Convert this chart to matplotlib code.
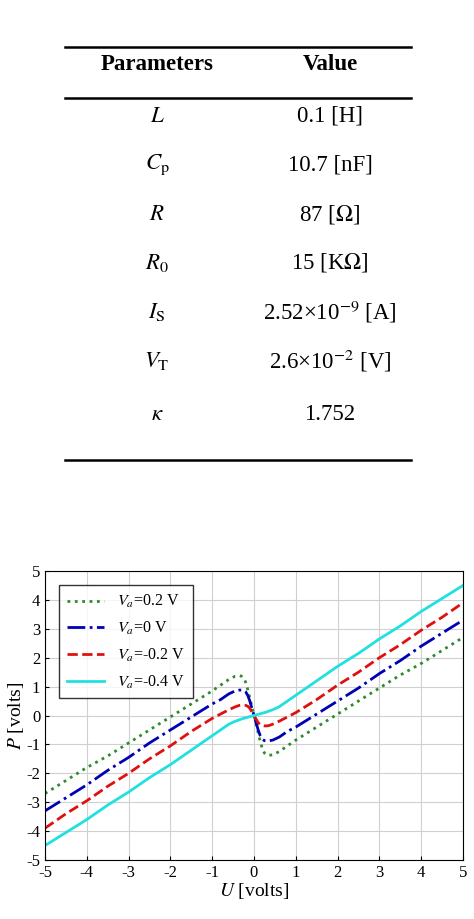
import numpy as np
import matplotlib
matplotlib.use("Agg")
import matplotlib.pyplot as plt

plt.rcParams['font.family'] = ['Liberation Serif', 'DejaVu Serif']
plt.rcParams['mathtext.fontset'] = 'stix'
plt.rcParams['axes.unicode_minus'] = False

# Tabla de parámetros
param_names = [r'$L$', r'$C_{\mathrm{p}}$', r'$R$', r'$R_0$', r'$I_{\mathrm{S}}$', r'$V_{\mathrm{T}}$', r'$\kappa$']
param_values = ['0.1 [H]', '10.7 [nF]', r'87 [$\Omega$]', r'15 [K$\Omega$]',
                '2.52×10$^{\\mathrm{-9}}$ [A]', '2.6×10$^{\\mathrm{-2}}$ [V]', '1.752']

# Curvas (mitad positiva, la curva es impar)
u_pos = [0.0, 0.1, 0.15, 0.2, 0.25, 0.3, 0.35, 0.45, 0.6, 0.8, 1.0, 1.5, 2.0, 2.5, 3.0, 3.5, 4.0, 4.5, 5.0]
p_02 = [0.0, -0.6, -0.9, -1.15, -1.3, -1.36, -1.38, -1.36, -1.25, -1.05, -0.85, -0.4, 0.05, 0.5, 0.95, 1.4, 1.8, 2.25, 2.7]
p_00 = [0.0, -0.5, -0.7, -0.82, -0.87, -0.88, -0.88, -0.85, -0.75, -0.55, -0.4, 0.05, 0.5, 0.95, 1.45, 1.9, 2.4, 2.85, 3.3]
p_m02 = [0.0, -0.25, -0.32, -0.35, -0.36, -0.36, -0.35, -0.3, -0.2, -0.05, 0.1, 0.55, 1.05, 1.5, 2.0, 2.45, 2.95, 3.4, 3.9]
p_m04 = [0.0, 0.04, 0.06, 0.08, 0.1, 0.12, 0.15, 0.2, 0.3, 0.5, 0.7, 1.2, 1.7, 2.15, 2.65, 3.1, 3.6, 4.05, 4.5]

series = [
    (p_02, '#2e8b2e', ':', r'$V_a$=0.2 V'),
    (p_00, '#0000b4', '-.', r'$V_a$=0 V'),
    (p_m02, '#e01010', '--', r'$V_a$=-0.2 V'),
    (p_m04, '#20e0e0', '-', r'$V_a$=-0.4 V'),
]

fig = plt.figure(figsize=(4.74, 9.19), dpi=100)

# Tabla
H = 919.0
tab = fig.add_axes([0, 0, 1, 1])
tab.set_xlim(0, 474)
tab.set_ylim(H, 0)
tab.axis('off')
for y in [47, 98, 460]:
    tab.plot([65, 411], [y, y], color='black', lw=1.8)
tab.text(157, 64, 'Parameters', ha='center', va='center', fontsize=16.5, fontweight='bold')
tab.text(330, 64, 'Value', ha='center', va='center', fontsize=16.5, fontweight='bold')
row_y = [116, 165, 214, 263, 312, 361, 415]
for y, n, v in zip(row_y, param_names, param_values):
    tab.text(157, y, n, ha='center', va='center', fontsize=16.5)
    tab.text(330, y, v, ha='center', va='center', fontsize=16.5)

# Gráfico
ax = fig.add_axes([45 / 474, 59 / H, 418 / 474, 289 / H])
u_pos = np.array(u_pos)
u = np.concatenate([-u_pos[::-1], u_pos[1:]])
for p, c, ls, lab in series:
    p = np.array(p)
    pp = np.concatenate([-p[::-1], p[1:]])
    ax.plot(u, pp, color=c, ls=ls, lw=2, label=lab)
ax.set_xlim(-5, 5)
ax.set_ylim(-5, 5)
ax.set_xticks(range(-5, 6))
ax.set_yticks(range(-5, 6))
ax.grid(True, color='#d0d0d0', lw=0.8)
ax.tick_params(labelsize=12, direction='in', length=3)
ax.set_xlabel(r'$U$ [volts]', fontsize=14, labelpad=0)
ax.set_ylabel(r'$P$ [volts]', fontsize=14, labelpad=0)
leg = ax.legend(loc='upper left', fontsize=11.5, fancybox=False, edgecolor='black',
                handlelength=2.3, borderpad=0.5, labelspacing=0.6, borderaxespad=0.9)
leg.get_frame().set_linewidth(1)

fig.savefig('out.png', dpi=100)
